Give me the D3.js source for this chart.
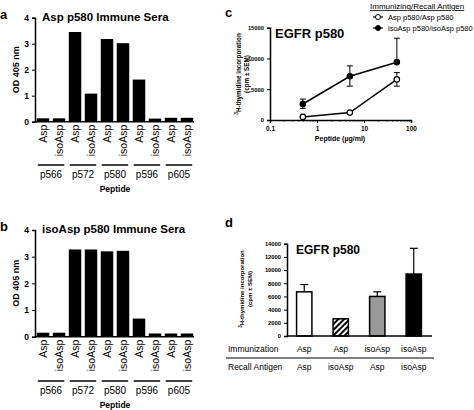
<!DOCTYPE html><html><head><meta charset="utf-8"><script src="https://cdn.jsdelivr.net/npm/d3@7"></script>
<style>body{margin:0;background:#fff}text{font-family:"Liberation Sans",Arial,sans-serif}</style></head><body>
<svg id="s" width="474" height="410"></svg>
<script>
const peptides=["p566","p572","p580","p596","p605"];
const forms=["Asp","isoAsp"];
const odA=[0.13,0.13,3.45,1.08,3.18,3.02,1.62,0.12,0.15,0.15];
const odB=[0.15,0.15,3.27,3.27,3.2,3.22,0.68,0.12,0.12,0.12];
const odTicks=[0,1,2,3,4];
const doses=[0.5,5,50];
const aspMean=[500,1200,6600], aspLo=[450,1100,5500], aspHi=[550,1300,7700];
const isoMean=[2600,7100,9400], isoLo=[1900,5500,9400], isoHi=[3400,8800,13300];
const cTicks=[0,5000,10000,15000];
const dImm=["Asp","Asp","isoAsp","isoAsp"], dRec=["Asp","isoAsp","Asp","isoAsp"];
const dMean=[6700,2600,6000,9400], dErr=[7800,2600,6700,13300];
const dFill=["#fff","hatch","#999","#000"];
const dTicks=[0,2000,4000,6000,8000,10000,12000,14000];

const svg=d3.select("#s");
const defs=svg.append("defs");
const pat=defs.append("pattern").attr("id","h").attr("width",4).attr("height",4).attr("patternUnits","userSpaceOnUse").attr("patternTransform","rotate(45)");
pat.append("rect").attr("width",4).attr("height",4).attr("fill","#fff");
pat.append("rect").attr("width",2).attr("height",4).attr("fill","#000");

function txt(x,y,s,o={}){const t=svg.append("text").attr("x",x).attr("y",y).text(s).attr("font-size",o.size||9).attr("font-weight",o.bold?"bold":null).attr("text-anchor",o.anchor||"start");if(o.rot)t.attr("transform",`rotate(-90,${x},${y})`);return t;}

function odPanel(vals,y0,y4,title,letter,ly){
  const y=d3.scaleLinear().domain([0,4]).range([y0,y4]);
  const x=d3.scaleBand().domain(d3.range(10)).range([36,194]).paddingInner(0.22).paddingOuter(0.05);
  const g=svg.append("g");
  g.selectAll("rect").data(vals).join("rect").attr("x",(d,i)=>x(i)).attr("width",x.bandwidth()).attr("y",d=>y(d)).attr("height",d=>y0-y(d)).attr("fill","#000");
  g.append("g").attr("transform","translate(35,0)").call(d3.axisLeft(y).tickValues(odTicks).tickSize(3).tickFormat(d3.format("d"))).call(a=>{a.selectAll("text").attr("font-size",8.5).attr("font-weight","bold");a.select(".domain").attr("stroke-width",1.5)});
  g.append("line").attr("x1",35).attr("x2",194).attr("y1",y0).attr("y2",y0).attr("stroke","#000").attr("stroke-width",1.5);
  vals.forEach((v,i)=>{const cx=x(i)+x.bandwidth()/2+4;txt(cx,y0+3,forms[i%2],{size:10.5,anchor:"end",rot:true});});
  peptides.forEach((p,j)=>{const a=x(2*j)+1,b=x(2*j+1)+x.bandwidth()-1;g.append("line").attr("x1",a).attr("x2",b).attr("y1",ly).attr("y2",ly).attr("stroke","#000").attr("stroke-width",1.5);txt((a+b)/2,ly+13,p,{anchor:"middle",size:10});});
  txt(115,ly+27,"Peptide",{bold:true,anchor:"middle",size:8.5});
  txt(19,(y0+y4)/2,"OD 405 nm",{bold:true,anchor:"middle",rot:true,size:9});
  txt(42,y4+3,title,{bold:true,size:11.5});
  txt(0,y4+1,letter,{bold:true,size:13});
}
odPanel(odA,121.7,17.7,"Asp p580 Immune Sera","a",165);
odPanel(odB,336.7,230,"isoAsp p580 Immune Sera","b",381);

// panel c
const xc=d3.scaleLog().domain([0.1,100]).range([270,411]);
const yc=d3.scaleLinear().domain([0,15000]).range([120,27.7]);
const gc=svg.append("g");
gc.append("g").attr("transform","translate(270,0)").call(d3.axisLeft(yc).tickValues(cTicks).tickSize(3).tickFormat(d3.format("d"))).call(a=>{a.selectAll("text").attr("font-size",5.8).attr("font-weight","bold");a.select(".domain").attr("stroke-width",1.5)});
gc.append("g").attr("transform","translate(0,120)").call(d3.axisBottom(xc).tickValues([0.1,1,10,100]).tickSize(3).tickFormat(d=>d)).call(a=>{a.selectAll("text").attr("font-size",6.5).attr("font-weight","bold");a.select(".domain").attr("stroke-width",1.5)});
gc.append("g").attr("transform","translate(0,120)").call(d3.axisBottom(xc).tickValues(d3.range(2,10).flatMap(k=>[k*0.1,k,k*10])).tickSize(1.5).tickFormat(""));
function series(m,lo,hi,fill){
  const line=d3.line().x((d,i)=>xc(doses[i])).y(d=>yc(d));
  gc.append("path").attr("d",line(m)).attr("fill","none").attr("stroke","#000").attr("stroke-width",1.5);
  doses.forEach((d,i)=>{const cx=xc(d);gc.append("line").attr("x1",cx).attr("x2",cx).attr("y1",yc(lo[i])).attr("y2",yc(hi[i])).attr("stroke","#000");
    [lo[i],hi[i]].forEach(v=>gc.append("line").attr("x1",cx-3).attr("x2",cx+3).attr("y1",yc(v)).attr("y2",yc(v)).attr("stroke","#000"));
    gc.append("circle").attr("cx",cx).attr("cy",yc(m[i])).attr("r",2.7).attr("fill",fill).attr("stroke","#000").attr("stroke-width",1.2);});
}
series(aspMean,aspLo,aspHi,"#fff");
series(isoMean,isoLo,isoHi,"#000");
txt(275,38,"EGFR p580",{bold:true,size:13});
txt(340,141,"Peptide (µg/ml)",{bold:true,anchor:"middle",size:7});
svg.append("text").attr("x",241).attr("y",74).attr("font-size",6.3).attr("font-weight","bold").attr("text-anchor","middle").attr("transform","rotate(-90,241,74)").html('<tspan baseline-shift="super" font-size="5">3</tspan>H-thymidine incorporation');
txt(249,74,"(cpm ± SEM)",{bold:true,anchor:"middle",rot:true,size:6.3});
txt(225,17,"c",{bold:true,size:13});
txt(370,9,"Immunizing/Recall Antigen",{size:8}).attr("text-decoration","underline");
[["Asp p580/Asp p580","#fff",17],["isoAsp p580/isoAsp p580","#000",28]].forEach(([s,f,yy])=>{
  svg.append("line").attr("x1",373).attr("x2",383).attr("y1",yy).attr("y2",yy).attr("stroke","#000").attr("stroke-width",1.2);
  svg.append("circle").attr("cx",378).attr("cy",yy).attr("r",2.5).attr("fill",f).attr("stroke","#000");
  txt(388,yy+3,s,{size:7.5});});

// panel d
const xd=d3.scaleBand().domain(d3.range(4)).range([290,428]).paddingInner(0.58).paddingOuter(0.18);
const yd=d3.scaleLinear().domain([0,14000]).range([336,243.7]);
const gd=svg.append("g");
dMean.forEach((v,i)=>{const x0=xd(i),w=xd.bandwidth(),cx=x0+w/2;
  gd.append("line").attr("x1",cx).attr("x2",cx).attr("y1",yd(v)).attr("y2",yd(dErr[i])).attr("stroke","#000").attr("stroke-width",1.2);
  gd.append("line").attr("x1",cx-4).attr("x2",cx+4).attr("y1",yd(dErr[i])).attr("y2",yd(dErr[i])).attr("stroke","#000").attr("stroke-width",1.2);
  gd.append("rect").attr("x",x0).attr("width",w).attr("y",yd(v)).attr("height",336-yd(v)).attr("fill",dFill[i]==="hatch"?"url(#h)":dFill[i]).attr("stroke","#000").attr("stroke-width",1.5);
  txt(cx,352,dImm[i],{anchor:"middle",size:8.5});txt(cx,370,dRec[i],{anchor:"middle",size:8.5});});
gd.append("g").attr("transform","translate(287,0)").call(d3.axisLeft(yd).tickValues(dTicks).tickSize(3).tickFormat(d3.format("d"))).call(a=>{a.selectAll("text").attr("font-size",5.8).attr("font-weight","bold");a.select(".domain").attr("stroke-width",1.5)});
gd.append("line").attr("x1",287).attr("x2",432).attr("y1",336).attr("y2",336).attr("stroke","#000").attr("stroke-width",1.5);
gd.append("line").attr("x1",226).attr("x2",434).attr("y1",358).attr("y2",358).attr("stroke","#000").attr("stroke-width",1);
txt(228,352,"Immunization",{size:8.5});txt(228,370,"Recall Antigen",{size:8.5});
txt(296,254,"EGFR p580",{bold:true,size:12});
txt(225,227,"d",{bold:true,size:13});
svg.append("text").attr("x",244).attr("y",289).attr("font-size",6).attr("font-weight","bold").attr("text-anchor","middle").attr("transform","rotate(-90,244,289)").html('<tspan baseline-shift="super" font-size="4.5">3</tspan>H-thymidine incorporation');
txt(252,289,"(cpm ± SEM)",{bold:true,anchor:"middle",rot:true,size:6});
</script></body></html>
